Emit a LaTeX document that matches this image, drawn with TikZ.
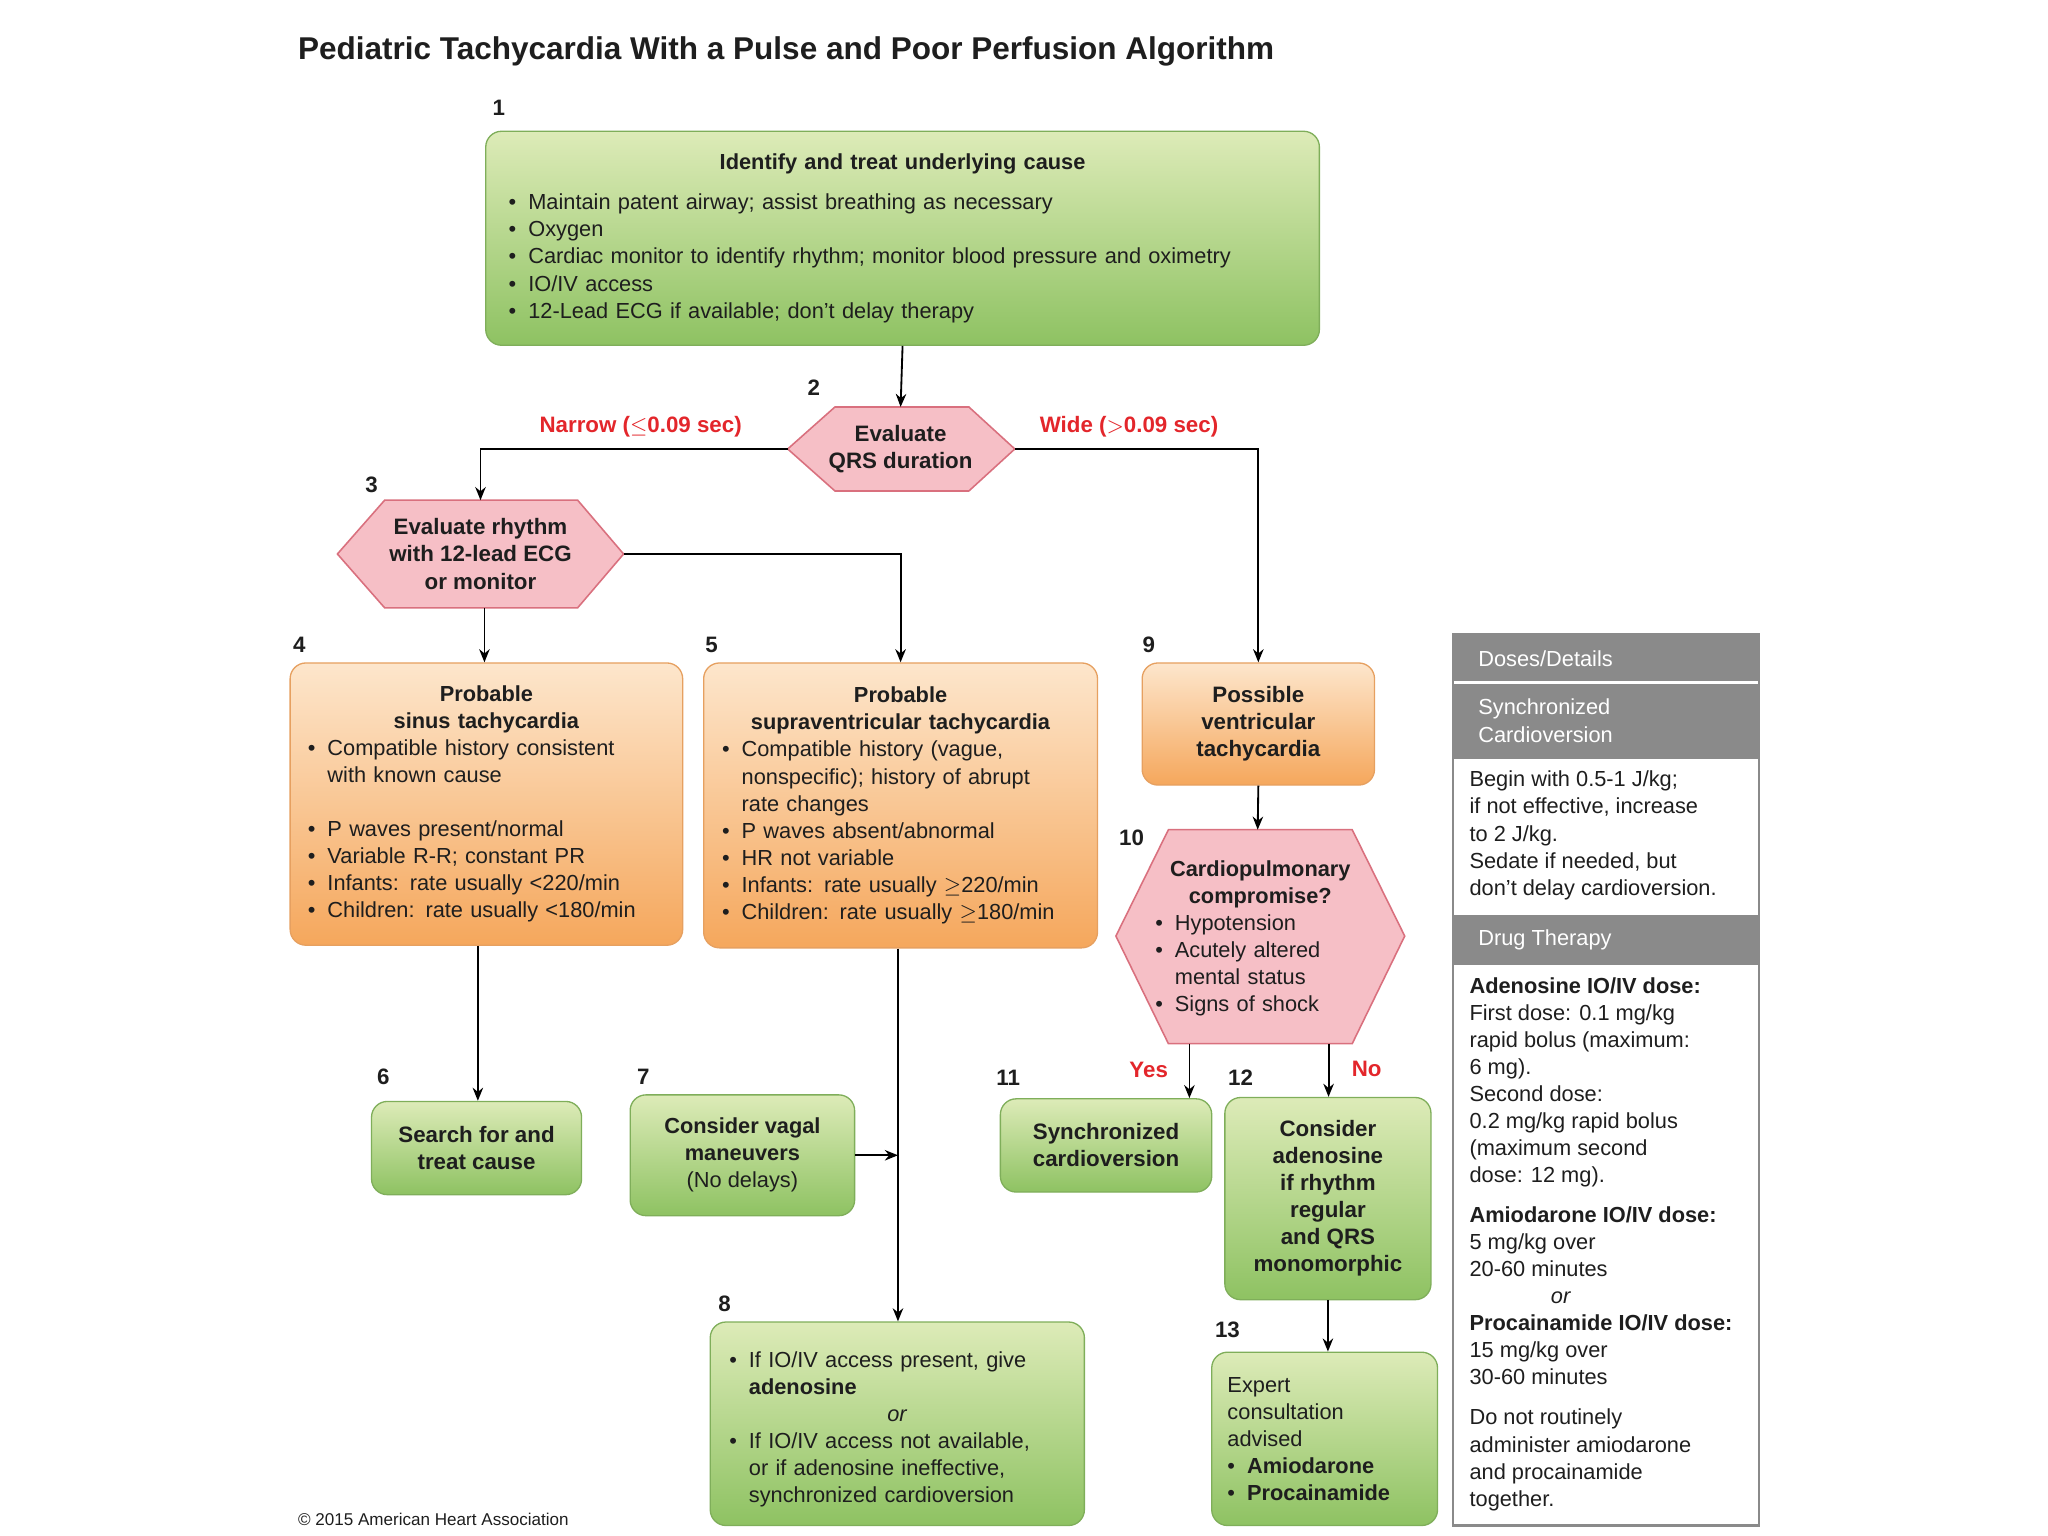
\documentclass[tikz,border=0pt]{standalone}
\usepackage{fontspec}
\setmainfont{Liberation Sans}
\usetikzlibrary{arrows.meta}
\definecolor{gtop}{HTML}{DDEBB8}\definecolor{gbot}{HTML}{8EC262}\definecolor{gline}{HTML}{7FAE5A}
\definecolor{otop}{HTML}{FDE6CC}\definecolor{obot}{HTML}{F5A75C}\definecolor{oline}{HTML}{E6A060}
\definecolor{pfill}{HTML}{F6BFC6}\definecolor{pline}{HTML}{D9707E}
\definecolor{ared}{HTML}{E3262B}\definecolor{pgray}{HTML}{8A8A8A}\definecolor{txt}{HTML}{1E1E1E}
\newcommand\bitem{\par\hangindent=0.9em\hangafter=1\noindent\makebox[0.9em][l]{\textbullet}}
\begin{document}
\begin{tikzpicture}[x=0.5pt,y=-0.5pt,
  every node/.style={text=txt,font=\fontsize{8.3}{10.3}\selectfont},
  box/.style={draw,rounded corners=6pt,line width=0.5pt,inner sep=3pt},
  gbox/.style={box,draw=gline,top color=gtop,bottom color=gbot},
  obox/.style={box,draw=oline,top color=otop,bottom color=obot},
  hexs/.style={draw=pline,fill=pfill,line width=0.6pt},
  num/.style={font=\fontsize{8.5}{10}\selectfont\bfseries},
  lab/.style={text=ared,font=\fontsize{8.5}{10}\selectfont\bfseries},
  arr/.style={-{Stealth[length=5pt,width=4pt]},line width=0.7pt,black},
  hd/.style={text=white,font=\fontsize{8.3}{10.3}\selectfont,anchor=west}]
\useasboundingbox (0,0) rectangle (1560,1170);
\node[anchor=west,font=\fontsize{12}{14}\selectfont\bfseries] (title) at (220,39) {Pediatric Tachycardia With a Pulse and Poor Perfusion Algorithm};
% box 1
\node[gbox,minimum width=317.5pt,minimum height=81.5pt,text width=300pt,align=left] (b1) at (687.5,181.5)
 {{\centering\textbf{Identify and treat underlying cause}\par}\vspace{5pt}
 \bitem Maintain patent airway; assist breathing as necessary
 \bitem Oxygen
 \bitem Cardiac monitor to identify rhythm; monitor blood pressure and oximetry
 \bitem IO/IV access
 \bitem 12-Lead ECG if available; don't delay therapy\par};
\node[num] (n1) at (380,82) {1};
% hex 2
\path[hexs] (600,342)--(636,310)--(738,310)--(773,342)--(738,374)--(636,374)--cycle;
\node[align=center,font=\fontsize{8.5}{10.3}\selectfont\bfseries] (h2) at (686,342) {Evaluate\\QRS duration};
\coordinate (h2t) at (686,310); \coordinate (h2l) at (600,342); \coordinate (h2r) at (773,342);
\node[num] (n2) at (620,295) {2};
\node[lab] (narrow) at (488,325) {Narrow ($\leq$0.09 sec)};
\node[lab] (wide) at (860,325) {Wide ($>$0.09 sec)};
% hex 3
\path[hexs] (257,422)--(293,381)--(440,381)--(475,422)--(440,463)--(293,463)--cycle;
\node[align=center,font=\fontsize{8.5}{10.3}\selectfont\bfseries] (h3) at (366,422) {Evaluate rhythm\\with 12-lead ECG\\or monitor};
\coordinate (h3t) at (366,381); \coordinate (h3b) at (369,463); \coordinate (h3r) at (475,422);
\node[num] (n3) at (283,369) {3};
% box 4
\node[obox,minimum width=149.5pt,minimum height=107.5pt,text width=136pt,align=left] (b4) at (370.5,612.5)
 {{\centering\textbf{Probable\\sinus tachycardia}\par}
 \bitem Compatible history consistent\newline with known cause\par\vspace{10.3pt}
 \bitem P waves present/normal
 \bitem Variable R-R; constant PR
 \bitem Infants: rate usually {<}220/min
 \bitem Children: rate usually {<}180/min\par};
\node[num] (n4) at (228,491) {4};
% box 5
\node[obox,minimum width=150pt,minimum height=108.5pt,text width=136pt,align=left] (b5) at (686,613.5)
 {{\centering\textbf{Probable\\supraventricular tachycardia}\par}
 \bitem Compatible history (vague,\newline nonspecific); history of abrupt\newline rate changes
 \bitem P waves absent/abnormal
 \bitem HR not variable
 \bitem Infants: rate usually $\geq$220/min
 \bitem Children: rate usually $\geq$180/min\par};
\node[num] (n5) at (542,491) {5};
% box 9
\node[obox,minimum width=88.5pt,minimum height=46.5pt,align=center,font=\fontsize{8.5}{10.3}\selectfont\bfseries] (b9) at (958.5,551.5) {Possible\\ventricular\\tachycardia};
\node[num] (n9) at (875,491) {9};
% hex 10
\path[hexs] (850,713)--(890,632)--(1030,632)--(1070,713)--(1030,795)--(890,795)--cycle;
\node[text width=80pt,align=left] (h10) at (960,715)
 {{\centering\textbf{Cardiopulmonary\\compromise?}\par}
 \bitem Hypotension
 \bitem Acutely altered\newline mental status
 \bitem Signs of shock\par};
\coordinate (h10t) at (958,632); \coordinate (h10y) at (906,795); \coordinate (h10n) at (1012,795);
\node[num] (n10) at (862,638) {10};
\node[lab] (yes) at (875,815) {Yes};
\node[lab] (no) at (1041,814) {No};
% box 11
\node[gbox,minimum width=80.5pt,minimum height=35.5pt,align=center,font=\fontsize{8.5}{10.3}\selectfont\bfseries] (b11) at (842.5,872.5) {Synchronized\\cardioversion};
\node[num] (n11) at (768,821) {11};
% box 12
\node[gbox,minimum width=78.5pt,minimum height=77pt,align=center,font=\fontsize{8.5}{10.3}\selectfont\bfseries] (b12) at (1011.5,913) {Consider\\adenosine\\if rhythm\\regular\\and QRS\\monomorphic};
\node[num] (n12) at (945,821) {12};
% box 13
\node[gbox,minimum width=86pt,minimum height=66pt,text width=74pt,align=left] (b13) at (1009,1096)
 {Expert\\consultation\\advised
 \bitem \textbf{Amiodarone}
 \bitem \textbf{Procainamide}\par};
\node[num] (n13) at (935,1013) {13};
% box 6
\node[gbox,minimum width=80pt,minimum height=35.5pt,align=center,font=\fontsize{8.5}{10.3}\selectfont\bfseries] (b6) at (363,874.5) {Search for and\\treat cause};
\node[num] (n6) at (292,820) {6};
% box 7
\node[gbox,minimum width=85.5pt,minimum height=46pt,align=center] (b7) at (565.5,880) {\textbf{Consider vagal}\\\textbf{maneuvers}\\(No delays)};
\node[num] (n7) at (490,820) {7};
% box 8
\node[gbox,minimum width=142.5pt,minimum height=77.5pt,text width=128pt,align=left] (b8) at (683.5,1084.5)
 {\bitem If IO/IV access present, give\newline\textbf{adenosine}\par
 {\centering\textit{or}\par}
 \bitem If IO/IV access not available,\newline or if adenosine ineffective,\newline synchronized cardioversion\par};
\node[num] (n8) at (552,993) {8};
\node[anchor=west,font=\fontsize{6.5}{8}\selectfont] (copy) at (220,1157) {\textcopyright\ 2015 American Heart Association};
% connectors
\coordinate (j7) at (684,880);
\draw[arr] (b1.south) -- (h2t);
\draw[arr] (h2l) -| (h3t);
\draw[arr] (h2r) -| (b9.north);
\draw[arr] (h3b) -- (b4.north -| h3b);
\draw[arr] (h3r) -| (b5.north);
\draw[arr] (b9.south) -- (h10t);
\draw[arr] (h10y) -- (b11.north -| h10y);
\draw[arr] (h10n) -- (b12.north -| h10n);
\draw[arr] (b12.south) -- (b13.north -| b12.south);
\draw[arr] (b4.south -| 364,0) -- (b6.north -| 364,0);
\draw[arr] (b5.south -| 684,0) -- (b8.north -| 684,0);
\draw[arr] (b7.east) -- (j7);
% doses panel
\fill[pgray] (1107,483) rectangle (1340,519);
\fill[pgray] (1107,521) rectangle (1340,578);
\fill[pgray] (1107,697) rectangle (1340,735);
\draw[pgray,line width=0.8pt] (1107,483) rectangle (1340,1162);
\node[hd] (dd) at (1119,502) {Doses/Details};
\node[hd,align=left] (sc) at (1119,549) {Synchronized\\Cardioversion};
\node[hd] (dt) at (1119,716) {Drug Therapy};
\node[anchor=north west,align=left,inner sep=0pt] (scb) at (1119,587) {Begin with 0.5-1 J/kg;\\if not effective, increase\\to 2 J/kg.\\Sedate if needed, but\\don't delay cardioversion.};
\node[anchor=north west,align=left,inner sep=0pt] (dtb) at (1119,744) {\textbf{Adenosine IO/IV dose:}\\First dose: 0.1 mg/kg\\rapid bolus (maximum:\\6 mg).\\Second dose:\\0.2 mg/kg rapid bolus\\(maximum second\\dose: 12 mg).\\[5pt]
\textbf{Amiodarone IO/IV dose:}\\5 mg/kg over\\20-60 minutes\\\hspace*{31pt}\textit{or}\\\textbf{Procainamide IO/IV dose:}\\15 mg/kg over\\30-60 minutes\\[5pt]Do not routinely\\administer amiodarone\\and procainamide\\together.};
\end{tikzpicture}
\end{document}
